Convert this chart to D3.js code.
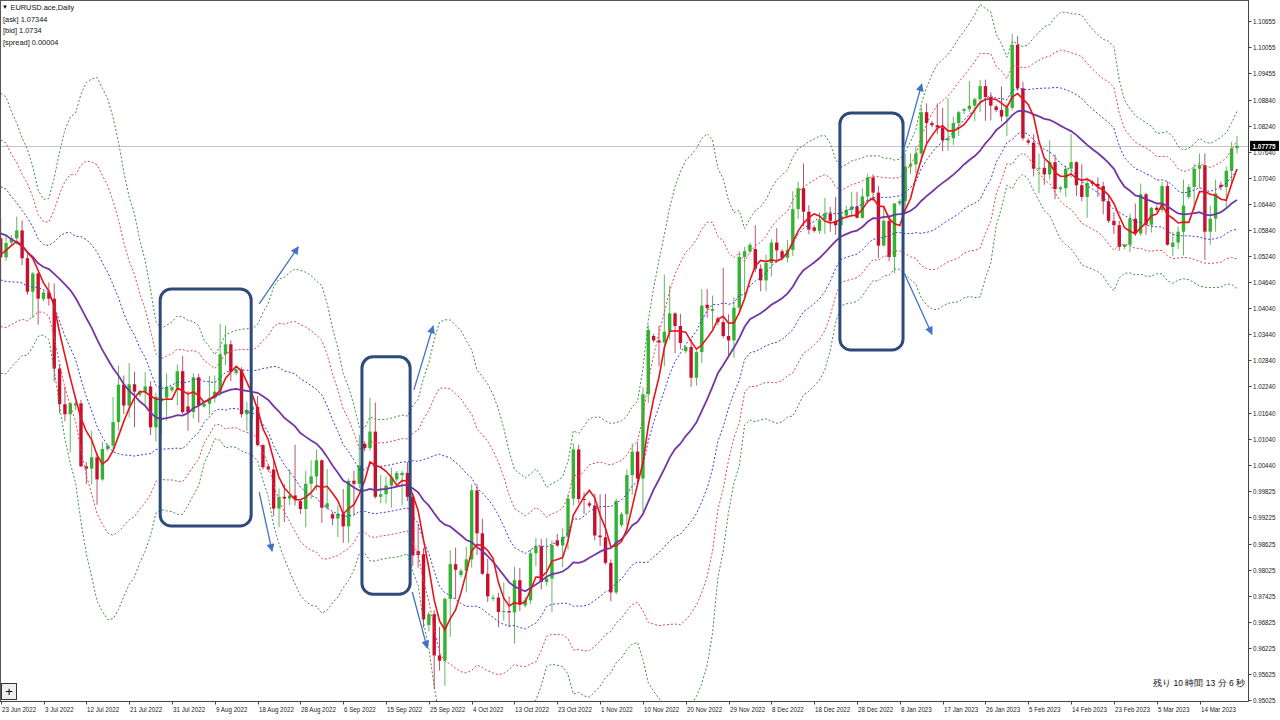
<!DOCTYPE html>
<html><head><meta charset="utf-8">
<script src="https://cdn.jsdelivr.net/npm/d3@7"></script>
<style>
html,body{margin:0;padding:0;background:#fff;}
svg{display:block;}
text{font-family:"Liberation Sans",Arial,sans-serif;}
</style></head><body>
<svg id="c" width="1280" height="720"></svg>
<script>
// ---------------- DATA ----------------
const symbolTitle = "EURUSD.ace,Daily";
const infoLines = ["[ask] 1.07344", "[bid] 1.0734", "[spread] 0.00004"];
const currentPrice = 1.07775;
const countdownText = "残り 10 時間 13 分 6 秒";

// one label every 8 daily bars (bar 0 = 23 Jun 2022)
const dateLabels = ["23 Jun 2022","3 Jul 2022","12 Jul 2022","21 Jul 2022","31 Jul 2022","9 Aug 2022",
  "18 Aug 2022","28 Aug 2022","6 Sep 2022","15 Sep 2022","25 Sep 2022","4 Oct 2022","13 Oct 2022",
  "23 Oct 2022","1 Nov 2022","10 Nov 2022","20 Nov 2022","29 Nov 2022","8 Dec 2022","18 Dec 2022",
  "28 Dec 2022","8 Jan 2023","17 Jan 2023","26 Jan 2023","5 Feb 2023","14 Feb 2023","23 Feb 2023",
  "5 Mar 2023","14 Mar 2023"];

const priceTicks = [1.10655,1.10055,1.09455,1.08840,1.08240,1.07640,1.07040,1.06440,1.05840,1.05240,
  1.04640,1.04040,1.03440,1.02840,1.02240,1.01640,1.01040,1.00440,0.99825,0.99225,0.98625,0.98025,
  0.97425,0.96825,0.96225,0.95625,0.95025];

// closes of the bars before the first visible bar (needed by the 20-bar bands)
const historyCloses = [1.0647,1.0750,1.0719,1.0720,1.0694,1.0705,1.0715,1.0616,1.0518,1.0490,
  1.0410,1.0416,1.0446,1.0550,1.0494,1.0505,1.0510,1.0535,1.0565];

const opens = [
1.0565,1.0521,1.0555,1.0565,1.0583,1.0519,1.0442,1.0484,1.0425,1.0440,
1.0426,1.0265,1.0183,1.0160,1.0180,1.0185,1.0040,1.0035,1.0061,1.0010,
1.0080,1.0088,1.0142,1.0228,1.0180,1.0229,1.0205,1.0212,1.0224,1.0130,
1.0190,1.0198,1.0215,1.0222,1.0259,1.0178,1.0165,1.0245,1.0178,1.0184,
1.0197,1.0212,1.0298,1.0321,1.0255,1.0262,1.0160,1.0170,1.0177,1.0089,
1.0040,1.0033,0.9943,0.9970,0.9966,0.9973,0.9960,0.9942,1.0000,1.0017,
1.0054,0.9945,0.9930,0.9920,0.9931,0.9902,1.0007,1.0000,1.0092,1.0082,
1.0120,0.9970,0.9976,0.9996,1.0010,1.0020,1.0025,0.9970,0.9845,0.9838,
0.9675,0.9700,0.9605,0.9593,0.9735,0.9815,0.9790,0.9800,0.9826,0.9985,
0.9886,0.9793,0.9735,0.9738,0.9705,0.9707,0.9704,0.9778,0.9720,0.9732,
0.9840,0.9856,0.9774,0.9782,0.9870,0.9858,0.9878,0.9966,1.0079,0.9965,
0.9955,0.9950,0.9881,0.9877,0.9818,0.9750,0.9905,0.9930,1.0020,1.0074,
1.0012,1.0206,1.0340,1.0330,1.0325,1.0350,1.0392,1.0363,1.0305,1.0315,
1.0244,1.0303,1.0412,1.0398,1.0380,1.0372,1.0340,1.0330,1.0405,1.0522,
1.0535,1.0540,1.0495,1.0468,1.0508,1.0555,1.0535,1.0520,1.0538,1.0632,
1.0680,1.0626,1.0590,1.0582,1.0608,1.0622,1.0605,1.0595,1.0617,1.0630,
1.0638,1.0612,1.0661,1.0705,1.0670,1.0548,1.0605,1.0522,1.0645,1.0650,
1.0730,1.0735,1.0760,1.0855,1.0830,1.0825,1.0820,1.0790,1.0795,1.0830,
1.0858,1.0862,1.0870,1.0885,1.0915,1.0890,1.0868,1.0860,1.0845,1.0865,
1.1010,1.0910,1.0790,1.0785,1.0725,1.0727,1.0712,1.0740,1.0678,1.0680,
1.0725,1.0740,1.0687,1.0660,1.0695,1.0690,1.0685,1.0650,1.0605,1.0595,
1.0545,1.0550,1.0610,1.0576,1.0666,1.0596,1.0635,1.0630,1.0685,1.0545,
1.0555,1.0580,1.0660,1.0683,1.0725,1.0733,1.0580,1.0610,1.0688,1.0683,
1.0720,1.0772];

const highs = [
1.0611,1.0570,1.0572,1.0615,1.0606,1.0535,1.0487,1.0487,1.0445,1.0463,
1.0461,1.0275,1.0224,1.0188,1.0190,1.0193,1.0050,1.0122,1.0071,1.0097,
1.0092,1.0200,1.0272,1.0249,1.0278,1.0258,1.0215,1.0257,1.0236,1.0210,
1.0235,1.0254,1.0225,1.0274,1.0294,1.0213,1.0254,1.0253,1.0190,1.0248,
1.0249,1.0368,1.0364,1.0330,1.0265,1.0268,1.0188,1.0202,1.0202,1.0091,
1.0045,1.0052,0.9989,0.9999,1.0033,1.0090,0.9965,1.0030,1.0054,1.0079,
1.0056,1.0034,0.9935,0.9950,0.9988,1.0012,1.0030,1.0113,1.0098,1.0198,
1.0187,1.0020,1.0017,1.0037,1.0030,1.0030,1.0050,0.9976,0.9908,0.9852,
0.9705,0.9709,0.9671,0.9739,0.9847,0.9853,0.9805,0.9855,0.9999,0.9999,
0.9920,0.9827,0.9745,0.9749,0.9773,0.9741,0.9809,0.9806,0.9740,0.9849,
0.9875,0.9873,0.9875,0.9870,0.9885,0.9898,0.9976,1.0093,1.0090,0.9980,
0.9960,0.9977,0.9976,0.9977,0.9826,0.9966,0.9935,1.0033,1.0093,1.0096,
1.0222,1.0365,1.0345,1.0364,1.0481,1.0456,1.0395,1.0391,1.0318,1.0333,
1.0307,1.0448,1.0448,1.0433,1.0385,1.0497,1.0390,1.0429,1.0535,1.0545,
1.0555,1.0595,1.0505,1.0527,1.0563,1.0588,1.0540,1.0561,1.0673,1.0695,
1.0737,1.0641,1.0595,1.0625,1.0658,1.0637,1.0660,1.0632,1.0640,1.0672,
1.0672,1.0680,1.0714,1.0712,1.0685,1.0635,1.0620,1.0646,1.0655,1.0760,
1.0760,1.0777,1.0868,1.0875,1.0835,1.0875,1.0865,1.0887,1.0845,1.0858,
1.0865,1.0927,1.0889,1.0929,1.0930,1.0901,1.0872,1.0914,1.0875,1.1035,
1.1030,1.0925,1.0795,1.0805,1.0760,1.0745,1.0790,1.0758,1.0685,1.0732,
1.0805,1.0742,1.0735,1.0705,1.0698,1.0705,1.0695,1.0665,1.0625,1.0605,
1.0552,1.0622,1.0645,1.0691,1.0670,1.0637,1.0640,1.0695,1.0695,1.0580,
1.0592,1.0700,1.0690,1.0736,1.0760,1.0760,1.0640,1.0700,1.0695,1.0730,
1.0787,1.0800];

const lows = [
1.0468,1.0513,1.0550,1.0550,1.0503,1.0435,1.0381,1.0366,1.0420,1.0410,
1.0235,1.0162,1.0144,1.0072,1.0170,1.0039,0.9999,0.9998,0.9952,1.0007,
1.0075,1.0080,1.0123,1.0160,1.0153,1.0130,1.0200,1.0180,1.0112,1.0097,
1.0114,1.0145,1.0210,1.0180,1.0160,1.0122,1.0150,1.0141,1.0175,1.0159,
1.0187,1.0202,1.0273,1.0236,1.0250,1.0153,1.0122,1.0149,1.0086,1.0033,
1.0028,0.9926,0.9900,0.9912,0.9951,0.9950,0.9930,0.9900,0.9965,0.9985,
0.9910,0.9941,0.9905,0.9877,0.9864,0.9864,0.9929,0.9990,1.0075,1.0076,
0.9966,0.9955,0.9955,0.9945,1.0005,0.9950,0.9960,0.9811,0.9807,0.9669,
0.9660,0.9528,0.9570,0.9535,0.9648,0.9735,0.9785,0.9750,0.9807,0.9836,
0.9790,0.9728,0.9730,0.9670,0.9685,0.9670,0.9632,0.9707,0.9715,0.9723,
0.9810,0.9757,0.9765,0.9705,0.9855,0.9808,0.9848,0.9950,0.9955,0.9930,
0.9945,0.9870,0.9857,0.9814,0.9730,0.9746,0.9900,0.9900,0.9975,0.9995,
0.9935,1.0186,1.0325,1.0270,1.0271,1.0332,1.0300,1.0309,1.0300,1.0223,
1.0226,1.0278,1.0382,1.0357,1.0365,1.0335,1.0290,1.0290,1.0392,1.0429,
1.0530,1.0487,1.0443,1.0443,1.0477,1.0508,1.0515,1.0509,1.0524,1.0609,
1.0593,1.0574,1.0578,1.0575,1.0575,1.0580,1.0573,1.0585,1.0610,1.0615,
1.0610,1.0610,1.0650,1.0650,1.0519,1.0546,1.0512,1.0484,1.0640,1.0636,
1.0713,1.0715,1.0740,1.0780,1.0820,1.0805,1.0765,1.0766,1.0780,1.0800,
1.0850,1.0855,1.0835,1.0855,1.0835,1.0836,1.0855,1.0834,1.0800,1.0860,
1.0905,1.0790,1.0780,1.0707,1.0669,1.0688,1.0700,1.0655,1.0670,1.0660,
1.0704,1.0662,1.0650,1.0612,1.0685,1.0660,1.0620,1.0600,1.0575,1.0536,
1.0540,1.0533,1.0570,1.0570,1.0573,1.0578,1.0625,1.0625,1.0548,1.0524,
1.0540,1.0525,1.0655,1.0630,1.0680,1.0515,1.0550,1.0580,1.0675,1.0635,
1.0690,1.0760];

const closes = [
1.0521,1.0554,1.0565,1.0583,1.0519,1.0442,1.0484,1.0426,1.0440,1.0426,
1.0265,1.0183,1.0160,1.0185,1.0185,1.0040,1.0035,1.0061,1.0010,1.0080,
1.0088,1.0142,1.0228,1.0180,1.0229,1.0212,1.0212,1.0224,1.0130,1.0200,
1.0198,1.0223,1.0222,1.0259,1.0165,1.0165,1.0245,1.0180,1.0184,1.0197,
1.0212,1.0298,1.0321,1.0258,1.0262,1.0160,1.0170,1.0177,1.0089,1.0038,
1.0033,0.9943,0.9970,0.9966,0.9973,0.9965,0.9942,1.0000,1.0017,1.0054,
0.9945,0.9955,0.9920,0.9931,0.9902,1.0007,1.0000,1.0042,1.0082,1.0120,
0.9970,0.9976,0.9996,1.0015,1.0025,1.0025,0.9970,0.9835,0.9836,0.9688,
0.9700,0.9605,0.9593,0.9735,0.9815,0.9802,0.9800,0.9826,0.9985,0.9886,
0.9793,0.9741,0.9738,0.9705,0.9707,0.9704,0.9778,0.9722,0.9732,0.9840,
0.9856,0.9774,0.9782,0.9859,0.9858,0.9878,0.9966,1.0079,0.9965,0.9964,
0.9950,0.9881,0.9877,0.9818,0.9750,0.9960,0.9930,1.0020,1.0074,1.0012,
1.0206,1.0354,1.0330,1.0325,1.0350,1.0392,1.0363,1.0324,1.0315,1.0244,
1.0303,1.0410,1.0404,1.0402,1.0372,1.0340,1.0330,1.0405,1.0522,1.0535,
1.0550,1.0495,1.0468,1.0508,1.0555,1.0537,1.0520,1.0538,1.0632,1.0680,
1.0626,1.0585,1.0582,1.0608,1.0622,1.0605,1.0595,1.0617,1.0630,1.0638,
1.0612,1.0661,1.0705,1.0670,1.0548,1.0605,1.0522,1.0645,1.0650,1.0730,
1.0735,1.0760,1.0855,1.0830,1.0825,1.0820,1.0790,1.0795,1.0830,1.0855,
1.0862,1.0870,1.0885,1.0915,1.0890,1.0870,1.0860,1.0845,1.0865,1.1010,
1.0910,1.0795,1.0785,1.0725,1.0727,1.0712,1.0740,1.0678,1.0682,1.0725,
1.0740,1.0687,1.0660,1.0692,1.0690,1.0685,1.0650,1.0605,1.0595,1.0545,
1.0550,1.0610,1.0576,1.0666,1.0596,1.0635,1.0630,1.0685,1.0550,1.0555,
1.0580,1.0640,1.0683,1.0725,1.0733,1.0580,1.0610,1.0668,1.0683,1.0720,
1.0772,1.0778];

// annotations in chart coordinates: [bar index, price]
const boxCorners = [ [[29.8,1.0448],[46.8,0.9903]], [[67.5,1.0292],[76.5,0.9746]], [[156.8,1.0853],[168.6,1.0308]] ];
const arrowPaths = [
  [[48.3,1.0414],[55.6,1.0545]], [[48.3,0.9981],[50.7,0.9845]],
  [[77.2,1.0216],[80.8,1.0363]], [[76.9,0.9751],[79.7,0.9622]],
  [[168.7,1.0768],[172.1,1.0920]], [[168.8,1.0485],[174.0,1.0344]]
];

// indicator settings
const maFast = 5, bbPeriod = 20, bbLevels = [3, 2, 1];

// ---------------- DRAW ----------------
const svg = d3.select("#c");
const plotRight = 1248.5, plotBottom = 701.5;
const n = closes.length;
const idx = d3.range(n);

const x = d3.scaleLinear().domain([0, n - 1]).range([0.7, 1237.0]);
const y = d3.scaleLinear().domain([0.95025, 1.10655]).range([700, 20.7]);

const defs = svg.append("defs");
defs.append("clipPath").attr("id", "plotClip").append("rect")
  .attr("x", 1).attr("y", 1).attr("width", plotRight - 1).attr("height", plotBottom - 1);
defs.append("marker").attr("id", "ah").attr("viewBox", "0 0 10 10")
  .attr("refX", 9).attr("refY", 5).attr("markerWidth", 9).attr("markerHeight", 8)
  .attr("markerUnits", "userSpaceOnUse").attr("orient", "auto")
  .append("path").attr("d", "M0,0 L10,5 L0,10 z").attr("fill", "#4472c4");

svg.append("rect").attr("width", 1280).attr("height", 720).attr("fill", "#fff");

const plot = svg.append("g").attr("clip-path", "url(#plotClip)");

// current price line
plot.append("line").attr("x1", 0).attr("x2", plotRight)
  .attr("y1", Math.round(y(currentPrice)) + 0.5).attr("y2", Math.round(y(currentPrice)) + 0.5)
  .attr("stroke", "#c4c4c4").attr("stroke-width", 1);

// candles
const bullC = "#34b234", bearC = "#c8102e";
const cg = plot.append("g");
cg.selectAll("line.wick").data(idx).join("line").attr("class", "wick")
  .attr("x1", i => x(i)).attr("x2", i => x(i))
  .attr("y1", i => y(highs[i])).attr("y2", i => y(lows[i]))
  .attr("stroke", i => closes[i] >= opens[i] ? "#62b862" : "#b8566a")
  .attr("stroke-width", 1);
cg.selectAll("rect.body").data(idx).join("rect").attr("class", "body")
  .attr("x", i => x(i) - 1.7).attr("width", 3.4)
  .attr("y", i => Math.min(y(opens[i]), y(closes[i])))
  .attr("height", i => Math.max(1, Math.abs(y(opens[i]) - y(closes[i]))))
  .attr("fill", i => closes[i] >= opens[i] ? bullC : bearC);

// indicators from the closes
const allCloses = historyCloses.concat(closes);
const off = historyCloses.length;
const win = (i, p) => allCloses.slice(Math.max(0, i + off - p + 1), i + off + 1);
const fast = idx.map(i => d3.mean(win(i, maFast)));
const mid = idx.map(i => d3.mean(win(i, bbPeriod)));
const dev = idx.map(i => { const w = win(i, bbPeriod), m = d3.mean(w); return Math.sqrt(d3.mean(w, v => (v - m) * (v - m))); });

const line = d3.line().x((d, i) => x(i)).y(d => y(d));
const bandColor = {3: "#3f8f3f", 2: "#e0474c", 1: "#3b3bd6"};
bbLevels.forEach(k => {
  [1, -1].forEach(s => {
    plot.append("path").datum(mid.map((m, i) => m + s * k * dev[i]))
      .attr("d", line).attr("fill", "none").attr("stroke", bandColor[k])
      .attr("stroke-width", 1).attr("stroke-dasharray", "2,2");
  });
});
plot.append("path").datum(mid).attr("d", line).attr("fill", "none")
  .attr("stroke", "#7535a5").attr("stroke-width", 1.8);
plot.append("path").datum(fast).attr("d", line).attr("fill", "none")
  .attr("stroke", "#e8141c").attr("stroke-width", 1.6);

// annotation boxes and arrows
plot.selectAll("rect.box").data(boxCorners).join("rect").attr("class", "box")
  .attr("x", d => x(d[0][0])).attr("y", d => y(d[0][1]))
  .attr("width", d => x(d[1][0]) - x(d[0][0])).attr("height", d => y(d[1][1]) - y(d[0][1]))
  .attr("rx", 11).attr("ry", 11).attr("fill", "none")
  .attr("stroke", "#2d4a7b").attr("stroke-width", 3);
plot.selectAll("line.arrow").data(arrowPaths).join("line").attr("class", "arrow")
  .attr("x1", d => x(d[0][0])).attr("y1", d => y(d[0][1]))
  .attr("x2", d => x(d[1][0])).attr("y2", d => y(d[1][1]))
  .attr("stroke", "#4472c4").attr("stroke-width", 1.3).attr("marker-end", "url(#ah)");

// frame
svg.append("line").attr("x1", 0.5).attr("x2", 0.5).attr("y1", 0).attr("y2", plotBottom).attr("stroke", "#555");
svg.append("line").attr("x1", 0).attr("x2", plotRight).attr("y1", 0.5).attr("y2", 0.5).attr("stroke", "#555");
svg.append("line").attr("x1", plotRight).attr("x2", plotRight).attr("y1", 0).attr("y2", plotBottom).attr("stroke", "#444");
svg.append("line").attr("x1", 0).attr("x2", plotRight).attr("y1", plotBottom).attr("y2", plotBottom).attr("stroke", "#444");

// price axis
const pa = svg.append("g");
priceTicks.forEach(v => {
  const yy = Math.round(y(v)) + 0.5;
  pa.append("line").attr("x1", plotRight).attr("x2", plotRight + 3).attr("y1", yy).attr("y2", yy).attr("stroke", "#444");
  pa.append("text").attr("transform", `translate(${plotRight + 4.5},${yy + 2.6}) scale(0.82,1)`)
    .attr("font-size", 7.6).attr("fill", "#222").text(v.toFixed(5));
});
// current price tag
const cy = y(currentPrice);
pa.append("rect").attr("x", plotRight + 1.5).attr("y", cy - 5).attr("width", 29).attr("height", 10).attr("fill", "#000");
pa.append("text").attr("transform", `translate(${plotRight + 4},${cy + 2.8}) scale(0.82,1)`)
  .attr("font-size", 7.8).attr("fill", "#fff").attr("font-weight", "bold").text(currentPrice.toFixed(5));

// date axis
const da = svg.append("g");
dateLabels.forEach((t, k) => {
  const xx = Math.round(x(k * 8)) + 0.5;
  da.append("line").attr("x1", xx).attr("x2", xx).attr("y1", plotBottom).attr("y2", plotBottom + 3).attr("stroke", "#444");
  da.append("text").attr("transform", `translate(${xx + 0.5},${plotBottom + 10.5}) scale(0.82,1)`)
    .attr("font-size", 7.6).attr("fill", "#222").text(t);
});

// top-left info
svg.append("text").attr("x", 2).attr("y", 9).attr("font-size", 6).attr("fill", "#000").text("▼");
svg.append("text").attr("x", 10.5).attr("y", 9.5).attr("font-size", 7.4).attr("fill", "#111").text(symbolTitle);
infoLines.forEach((t, k) => {
  svg.append("text").attr("x", 3).attr("y", 21.5 + k * 11.5).attr("font-size", 7.4).attr("fill", "#111").text(t);
});

// countdown
svg.append("text").attr("x", 1245).attr("y", 686).attr("text-anchor", "end")
  .attr("font-family", "'Noto Sans CJK JP', sans-serif").attr("font-size", 8.5).attr("fill", "#111")
  .text(countdownText);

// "+" button
svg.append("rect").attr("x", 1.5).attr("y", 683.5).attr("width", 15).attr("height", 16)
  .attr("fill", "#efefef").attr("stroke", "#333");
svg.append("text").attr("x", 9).attr("y", 696).attr("text-anchor", "middle")
  .attr("font-size", 13).attr("fill", "#000").text("+");
</script>
</body></html>
